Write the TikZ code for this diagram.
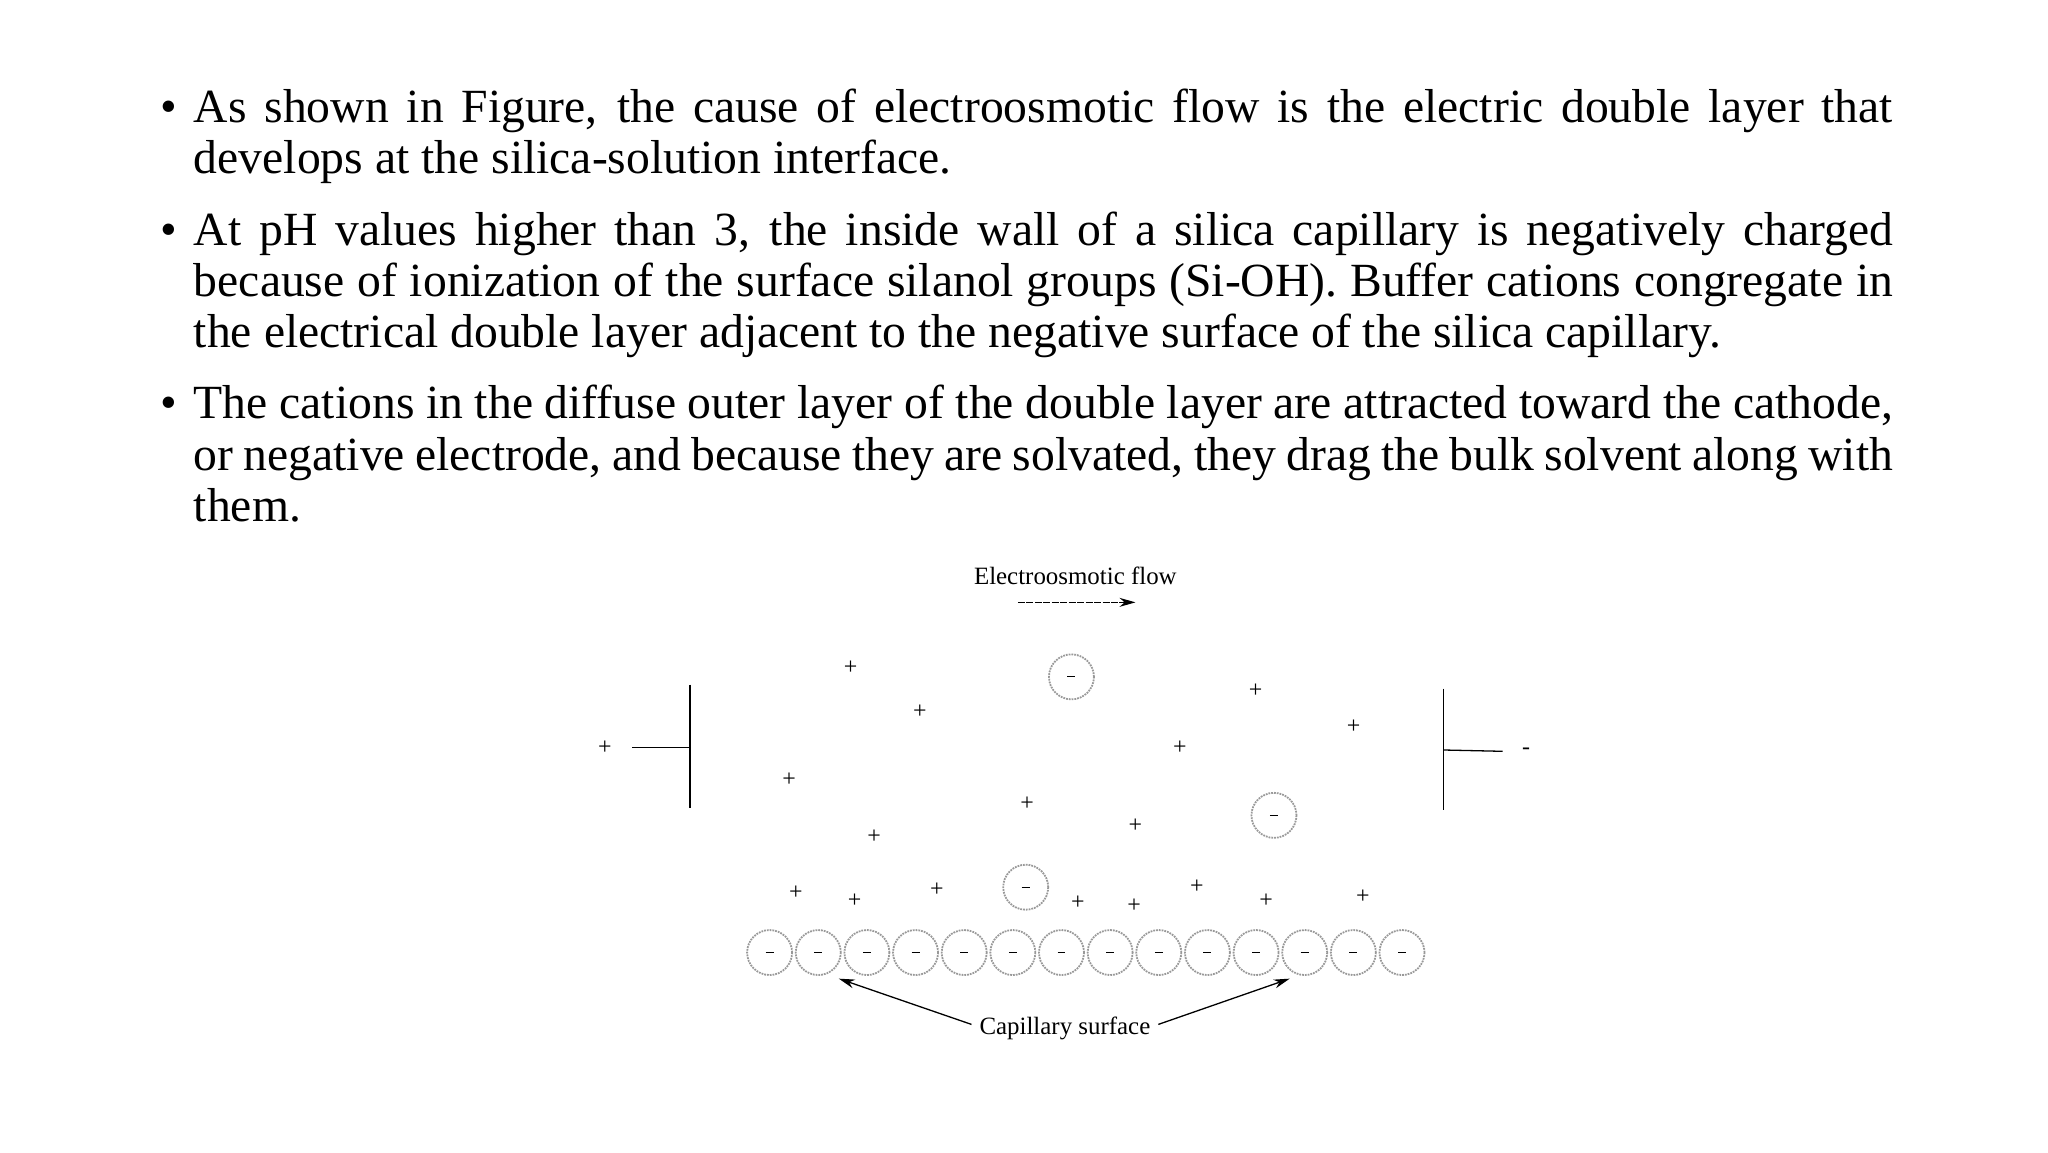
\documentclass[tikz,border=0pt]{standalone}
\usepackage{fontspec}
\setmainfont{Liberation Serif}
\usetikzlibrary{arrows.meta}
\begin{document}
\begin{tikzpicture}[x=1.3066bp,y=-1.3066bp,
  pl/.style={inner sep=0pt,font=\fontsize{24}{24}\selectfont},
  ion/.style={circle,draw=gray!80,densely dotted,line width=1.8pt,minimum size=45bp,inner sep=0pt,font=\fontsize{22}{22}\selectfont\bfseries},
  lbl/.style={inner sep=0pt,font=\fontsize{25}{25}\selectfont},
  ln/.style={line width=1.3pt},
  arr/.style={line width=1.3pt,-{Stealth[length=16pt,width=9pt]}}]
\useasboundingbox (0,0) rectangle (1567.4,881.7);
\node[anchor=north west,inner sep=0pt] (txt) at (123,68) {\parbox{1732bp}{\fontsize{47.8}{51.5}\selectfont
\hyphenpenalty=10000\exhyphenpenalty=10000
\setlength{\parskip}{20pt}\setlength{\parindent}{0pt}%
\hangindent=33bp\hangafter=1\makebox[33bp][l]{\textbullet}As shown in Figure, the cause of electroosmotic flow is the electric double layer that develops at the silica-solution interface.\par
\hangindent=33bp\hangafter=1\makebox[33bp][l]{\textbullet}At pH values higher than 3, the inside wall of a silica capillary is negatively charged\linebreak because of ionization of the surface silanol groups (Si-OH). Buffer cations congregate in\linebreak the electrical double layer adjacent to the negative surface of the silica capillary.\par
\hangindent=33bp\hangafter=1\makebox[33bp][l]{\textbullet}The cations in the diffuse outer layer of the double layer are attracted toward the cathode, or negative electrode, and because they are solvated, they drag the bulk solvent along with them.\par}};
\node[lbl] (eof) at (823,441) {Electroosmotic flow};
\coordinate (fa) at (779,461); \coordinate (fb) at (869,461);
\draw[arr,dash pattern=on 7pt off 1.5pt] (fa) -- (fb);
% electrodes
\coordinate (l1) at (528,524); \coordinate (l2) at (528,618); \coordinate (lh) at (484,572); \coordinate (lm) at (528,572);
\draw[ln] (l1) -- (l2); \draw[ln] (lh) -- (lm);
\node[pl] (lp) at (463,572) {+};
\coordinate (r1) at (1105,527); \coordinate (r2) at (1105,620); \coordinate (rm) at (1105,574); \coordinate (rh) at (1150,575);
\draw[ln] (r1) -- (r2); \draw[ln] (rm) -- (rh);
\node[pl] (rn) at (1168,575) {-};
% cations
\foreach \x/\y [count=\i] in {651/511,704/545,604/597,669/640,786/615,869/632,903/572,961/529,1036/556,609/683,654/689,717/681,825/691,868/693,916/679,969/689,1043/686}
  \node[pl] (p\i) at (\x,\y) {+};
% anions
\node[ion] (a1) at (820,518) {\rule{8pt}{1.3pt}};
\node[ion] (a2) at (975,624) {\rule{8pt}{1.3pt}};
\node[ion] (a3) at (785,679) {\rule{8pt}{1.3pt}};
\foreach \i in {0,...,13}
  \node[ion] (s\i) at (589+37.23*\i,729) {\rule{8pt}{1.3pt}};
\node[lbl] (cap) at (815,787) {Capillary surface};
\coordinate (t1) at (642,749); \coordinate (t2) at (987,749);
\draw[arr] (cap.west) ++(-6,-3) -- (t1);
\draw[arr] (cap.east) ++(6,-3) -- (t2);
\end{tikzpicture}
\end{document}
